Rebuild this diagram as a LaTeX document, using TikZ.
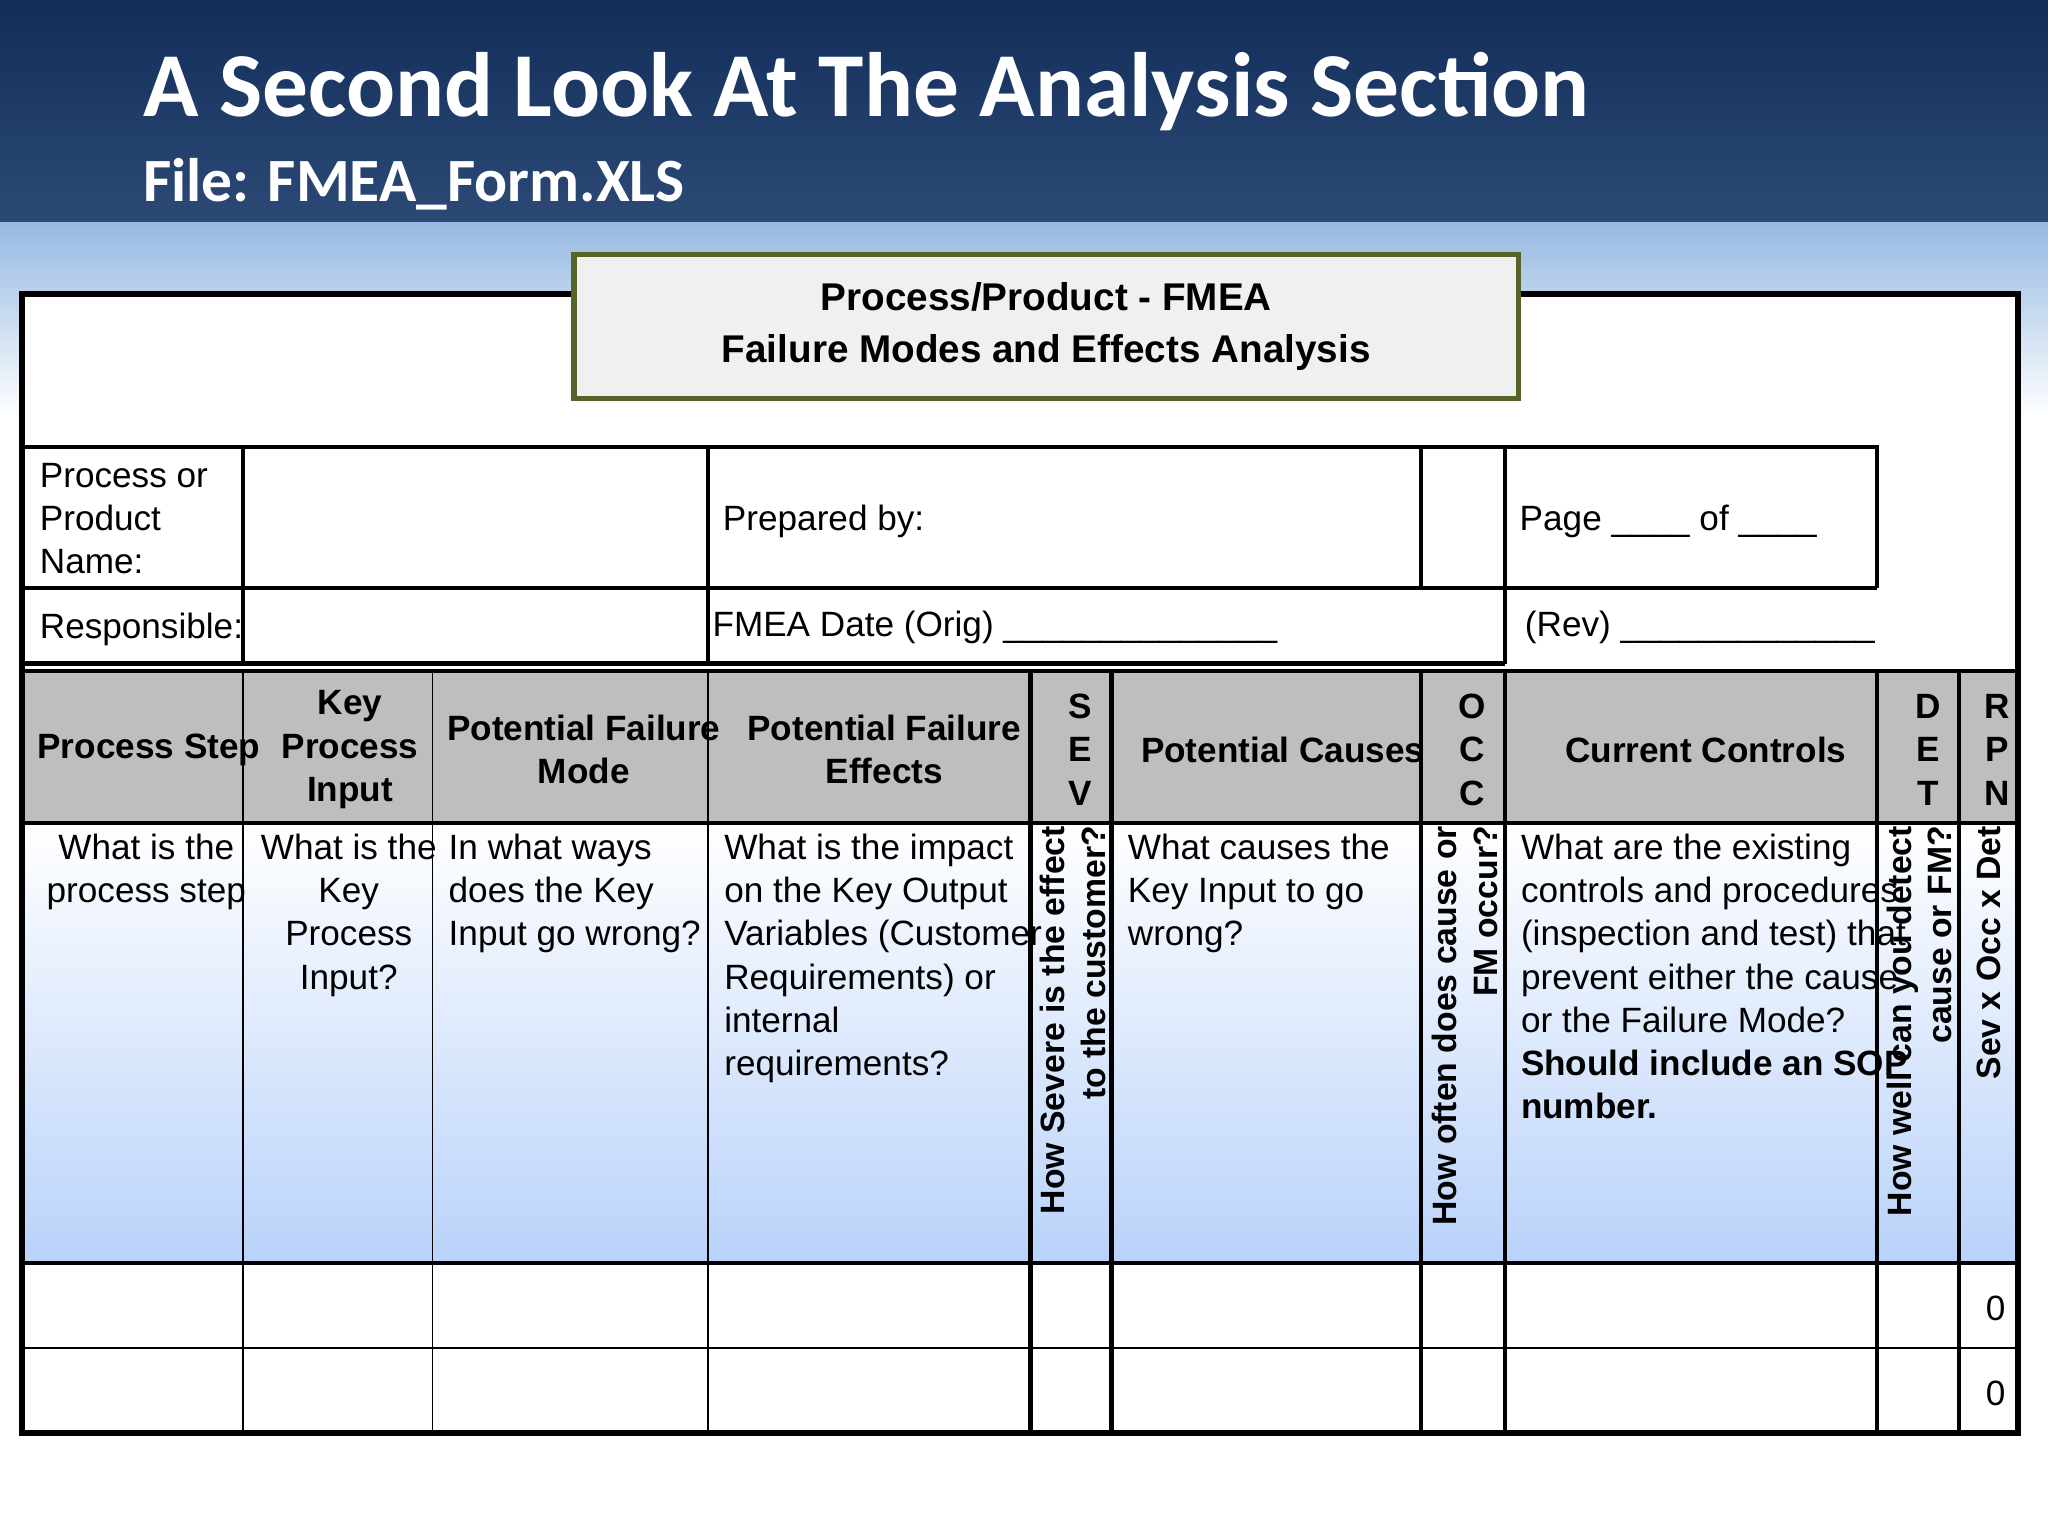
\documentclass[tikz,border=0pt]{standalone}
\usepackage{fontspec}
\setmainfont{Liberation Sans}
\newfontfamily\titlefont{Carlito}
\usetikzlibrary{positioning}
\definecolor{navy}{RGB}{18,45,90}
\definecolor{skyb}{RGB}{150,185,225}
\definecolor{cellb}{RGB}{185,210,250}
\definecolor{hdrgray}{RGB}{190,190,190}
\definecolor{olive}{RGB}{85,100,40}
\tikzset{%
	cell/.style={font=\fontsize{10}{12.3}\selectfont, align=left, anchor=north west, inner sep=0pt},
	head/.style={font=\fontsize{10}{12.3}\selectfont\bfseries, align=center},
	vtext/.style={font=\fontsize{9.6}{11.6}\selectfont\bfseries, align=right, rotate=90, anchor=north east, inner sep=0pt},
	grid/.style={line width=1.2pt},
}
\begin{document}
\begin{tikzpicture}[x=0.01306cm, y=-0.01306cm]
	\useasboundingbox (0,0) rectangle (1568,1176);
	% Background
	\shade[top color=navy, bottom color=navy!80!skyb] (0,0) rectangle (1568,170);
	\shade[top color=skyb, bottom color=white] (0,170) rectangle (1568,320);
	\node[anchor=west, text=white, font=\titlefont\fontsize{26}{30}\selectfont\bfseries] (title) at (100,70) {A Second Look At The Analysis Section};
	\node[anchor=west, text=white, font=\titlefont\fontsize{17.5}{20}\selectfont\bfseries] (file) at (100,141) {File: FMEA\_Form.XLS};
	
	% Sheet
	\fill[white] (17,225) rectangle (1545,1097);
	\fill[hdrgray] (17,514) rectangle (1545,630);
	\shade[top color=white, bottom color=cellb] (17,630) rectangle (1545,967);
	\draw[line width=1.8pt] (17,225) rectangle (1545,1097);
	\node[draw=olive, line width=1.6pt, fill=gray!12, minimum width=723*0.01306cm, minimum height=110*0.01306cm, font=\fontsize{11}{15}\selectfont\bfseries, align=center] (box) at (801,250) {Process/Product - FMEA\\Failure Modes and Effects Analysis};
	
	% Info rows
	\draw[grid] (17,342) -- (1437,342) -- (1437,450);
	\draw[grid] (17,450) -- (1437,450);
	\draw[grid] (17,508) -- (1152,508);
	\foreach \x in {186,542,1088} \draw[grid] (\x,342) -- (\x,450);
	\foreach \x in {186,542} \draw[grid] (\x,450) -- (\x,508);
	\draw[grid] (1152,342) -- (1152,508);
	\node[cell] (pname) at (30,354) {Process or\\Product\\Name:};
	\node[cell, anchor=west] (prep) at (553,399) {Prepared by:};
	\node[cell, anchor=west] (page) at (1163,399) {Page \_\_\_\_ of \_\_\_\_};
	\node[cell, anchor=west] (resp) at (30,482) {Responsible:};
	\node[cell, anchor=west] (orig) at (545,480) {FMEA Date (Orig) \_\_\_\_\_\_\_\_\_\_\_\_\_\_};
	\node[cell, anchor=west] (rev) at (1167,480) {(Rev) \_\_\_\_\_\_\_\_\_\_\_\_\_};
	
	% Column grid
	\draw[grid] (17,514) -- (1545,514);
	\draw[grid] (17,630) -- (1545,630);
	\draw[grid] (17,967) -- (1545,967);
	\draw[thin] (17,1032) -- (1545,1032);
	\foreach \x in {186,331,542} \draw[thin] (\x,514) -- (\x,1097);
	\foreach \x in {789,851,1088,1152,1437,1500} \draw[grid] (\x,514) -- (\x,1097);
	
	% Header texts
	\node[head] (h1) at (114,574) {Process Step};
	\node[head] (h2) at (268,574) {Key\\Process\\Input};
	\node[head] (h3) at (447,574) {Potential Failure\\Mode};
	\node[head] (h4) at (677,574) {Potential Failure\\Effects};
	\node[head] (h5) at (827,574) {S\\E\\V};
	\node[head] (h6) at (982,574) {Potential Causes};
	\node[head] (h7) at (1127,574) {O\\C\\C};
	\node[head] (h8) at (1306,574) {Current Controls};
	\node[head] (h9) at (1476,574) {D\\E\\T};
	\node[head] (h10) at (1529,574) {R\\P\\N};
	
	% Description cells
	\node[cell, align=center, anchor=north] (d1) at (112,638) {What is the\\process step};
	\node[cell, align=center, anchor=north] (d2) at (267,638) {What is the\\Key\\Process\\Input?};
	\node[cell] (d3) at (343,638) {In what ways\\does the Key\\Input go wrong?};
	\node[cell] (d4) at (554,638) {What is the impact\\on the Key Output\\Variables (Customer\\Requirements) or\\internal\\requirements?};
	\node[vtext] (d5) at (796,632) {How Severe is the effect\\to the customer?};
	\node[cell] (d6) at (863,638) {What causes the\\Key Input to go\\wrong?};
	\node[vtext] (d7) at (1096,632) {How often does cause or\\FM occur?};
	\node[cell] (d8) at (1164,638) {What are the existing\\controls and procedures\\(inspection and test) that\\prevent either the cause\\or the Failure Mode?\\\textbf{Should include an SOP}\\\textbf{number.}};
	\node[vtext] (d9) at (1444,632) {How well can you detect\\cause or FM?};
	\node[vtext] (d10) at (1513,632) {Sev x Occ x Det};
	
	% RPN values
	\node[cell, anchor=center] (r1) at (1528,1002) {0};
	\node[cell, anchor=center] (r2) at (1528,1067) {0};
\end{tikzpicture}
\end{document}
